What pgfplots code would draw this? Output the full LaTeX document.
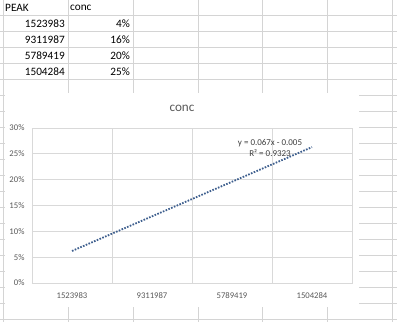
\documentclass[border=0pt]{standalone}
\usepackage{pgfplots}
\pgfplotsset{compat=1.18}
\usepackage{fontspec}
\setmainfont{Carlito}
\definecolor{cellgrid}{HTML}{D4D4D4}
\definecolor{chartgrid}{HTML}{D9D9D9}
\definecolor{ticktext}{HTML}{595959}
\definecolor{trend}{HTML}{3E5F8E}
\newcommand{\cellfont}{\fontsize{11.3}{13}\selectfont}
\newcommand{\tickfont}{\fontsize{8.7}{10}\selectfont}
\begin{document}
\begin{tikzpicture}[x=1bp,y=1bp]
\path[use as bounding box, fill=white] (0,0) rectangle (397,322);
% spreadsheet grid
\foreach \gx in {3,68,133,198,262,327,392}
  \draw[cellgrid, line width=0.8bp] (\gx,0) -- (\gx,322);
\foreach \gy in {15,31,...,319}
  \draw[cellgrid, line width=0.8bp] (0,{322-\gy}) -- (397,{322-\gy});
% cell contents
\node[anchor=west, font=\cellfont, inner sep=0pt] at (5,314) {PEAK};
\node[anchor=west, font=\cellfont, inner sep=0pt] at (70,314) {conc};
\node[anchor=east, font=\cellfont, inner sep=0pt] at (65,298) {1523983};
\node[anchor=east, font=\cellfont, inner sep=0pt] at (65,282) {9311987};
\node[anchor=east, font=\cellfont, inner sep=0pt] at (65,266) {5789419};
\node[anchor=east, font=\cellfont, inner sep=0pt] at (65,250) {1504284};
\node[anchor=east, font=\cellfont, inner sep=0pt] at (130,298) {4\%};
\node[anchor=east, font=\cellfont, inner sep=0pt] at (130,282) {16\%};
\node[anchor=east, font=\cellfont, inner sep=0pt] at (130,266) {20\%};
\node[anchor=east, font=\cellfont, inner sep=0pt] at (130,250) {25\%};
% chart area
\fill[white] (5,15) rectangle (359,229);
\node[font=\fontsize{13.2}{15}\selectfont, text=ticktext, inner sep=0pt] at (182,214) {conc};
\begin{axis}[
  at={(32bp,39bp)}, anchor=south west,
  scale only axis, width=320bp, height=155bp,
  xmin=0.5, xmax=4.5, ymin=0, ymax=0.3,
  xtick={1,2,3,4},
  xticklabels={1523983,9311987,5789419,1504284},
  extra x ticks={1.5,2.5,3.5},
  extra x tick labels={},
  extra x tick style={grid=major, major tick length=0pt},
  ytick={0,0.05,0.1,0.15,0.2,0.25,0.3},
  yticklabels={0\%,5\%,10\%,15\%,20\%,25\%,30\%},
  ymajorgrids,
  major grid style={chartgrid, line width=0.8bp},
  major tick length=0pt,
  axis line style={chartgrid, line width=0.8bp},
  tick label style={font=\tickfont, text=ticktext},
  xticklabel style={yshift=-6bp},
  yticklabel style={xshift=-4bp},
  /pgf/number format/assume math mode=true,
]
\addplot[draw=none, mark=none, forget plot] coordinates {(1,0.04) (2,0.16) (3,0.20) (4,0.25)};
\addplot[trend, line width=1.8bp, dash pattern=on 1.6bp off 1.4bp] coordinates {(1,0.062) (4,0.263)};
\end{axis}
\node[font=\fontsize{9}{10}\selectfont, text=black!75, inner sep=0pt] at (270,179.3) {y = 0.067x - 0.005};
\node[font=\fontsize{9}{10}\selectfont, text=black!75, inner sep=0pt] at (270,168.7) {R² = 0.9323};
\end{tikzpicture}
\end{document}
